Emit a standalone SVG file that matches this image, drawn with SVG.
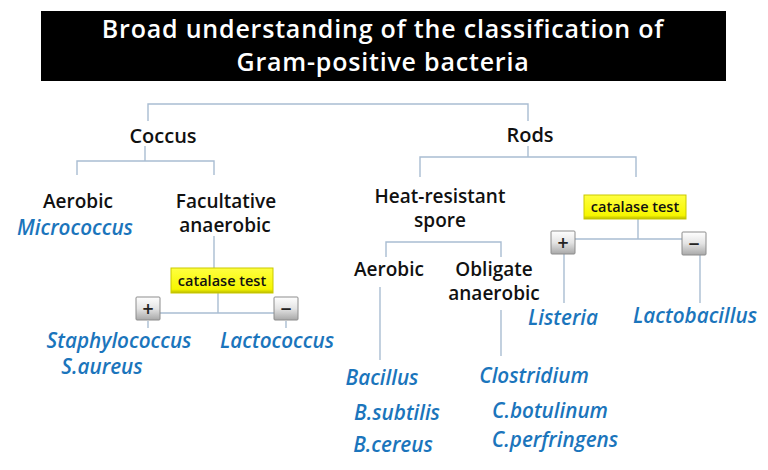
<svg xmlns="http://www.w3.org/2000/svg" width="768" height="470" viewBox="0 0 768 470">
<defs>
<linearGradient id="btn" x1="0" y1="0" x2="0" y2="1">
<stop offset="0" stop-color="#ffffff"/>
<stop offset="0.5" stop-color="#e4e4e4"/>
<stop offset="1" stop-color="#a8a8a8"/>
</linearGradient>
<linearGradient id="yel" x1="0" y1="0" x2="0" y2="1">
<stop offset="0" stop-color="#ffff40"/>
<stop offset="0.85" stop-color="#f6f600"/>
<stop offset="1" stop-color="#b8b800"/>
</linearGradient>
<style>
.ln{fill:none;stroke:#a9bdd2;stroke-width:1.4}
.lb{font-family:"Open Sans","Noto Sans",sans-serif;font-size:19px;font-weight:600;fill:#111;text-anchor:middle}
.sp{font-family:"Open Sans","Noto Sans",sans-serif;font-size:20.7px;font-style:italic;font-weight:600;fill:#1b75bc;text-anchor:middle}
.ct{font-family:"Open Sans","Noto Sans",sans-serif;font-size:14.5px;font-weight:600;fill:#111;text-anchor:middle}
.bx{fill:url(#yel);stroke:#c9c900;stroke-width:1}
.bt{fill:url(#btn);stroke:#8c8c8c;stroke-width:1}
.bs{font-family:"DejaVu Sans",sans-serif;font-size:15px;font-weight:bold;fill:#222;text-anchor:middle}
.tt{font-family:"Open Sans","Noto Sans",sans-serif;font-size:25px;font-weight:600;letter-spacing:0.8px;fill:#fff;text-anchor:middle}
</style>
</defs>
<rect x="0" y="0" width="768" height="470" fill="#fff"/>
<g id="title">
<rect x="41" y="11" width="685" height="70" fill="#000"/>
<text class="tt" x="383" y="38">Broad understanding of the classification of</text>
<text class="tt" x="383" y="71">Gram-positive bacteria</text>
</g>
<g id="connectors">
<polyline class="ln" points="148,121 148,104 528,104 528,121"/>
<polyline class="ln" points="77,175 77,161 214,161 214,175"/>
<line class="ln" x1="145" y1="146" x2="145" y2="161"/>
<line class="ln" x1="214" y1="236" x2="214" y2="268"/>
<line class="ln" x1="218" y1="293" x2="218" y2="313"/>
<line class="ln" x1="160" y1="313" x2="274" y2="313"/>
<line class="ln" x1="148" y1="321" x2="148" y2="328"/>
<line class="ln" x1="286" y1="321" x2="286" y2="328"/>
<line class="ln" x1="528" y1="146" x2="528" y2="157"/>
<polyline class="ln" points="420,177 420,157 636,157 636,177"/>
<polyline class="ln" points="386,257 386,242 501,242 501,257"/>
<line class="ln" x1="638" y1="219" x2="638" y2="239"/>
<line class="ln" x1="575" y1="239" x2="682" y2="239"/>
<line class="ln" x1="564" y1="254" x2="564" y2="303"/>
<line class="ln" x1="700" y1="254" x2="700" y2="303"/>
<line class="ln" x1="380" y1="287" x2="380" y2="360"/>
<line class="ln" x1="501" y1="310" x2="501" y2="356"/>
</g>
<g id="coccus"><text class="lb" x="163" y="143" style="font-size:20px">Coccus</text></g>
<g id="rods"><text class="lb" x="530" y="142" style="font-size:20px">Rods</text></g>
<g id="aerobic-coccus">
<text class="lb" x="78" y="208">Aerobic</text>
<text class="sp" x="75" y="235">Micrococcus</text>
</g>
<g id="facultative">
<text class="lb" x="226" y="208">Facultative</text>
<text class="lb" x="225" y="232">anaerobic</text>
</g>
<g id="catalase-1">
<rect class="bx" x="171" y="268" width="102" height="25"/>
<text class="ct" x="222" y="286">catalase test</text>
</g>
<g id="plus-1">
<rect class="bt" x="136" y="297" width="24" height="23" rx="1"/>
<text class="bs" x="148" y="314">+</text>
</g>
<g id="minus-1">
<rect class="bt" x="274" y="297" width="24" height="23" rx="1"/>
<text class="bs" x="286" y="314">−</text>
</g>
<g id="staphylococcus">
<text class="sp" x="119" y="348">Staphylococcus</text>
<text class="sp" x="102" y="374">S.aureus</text>
</g>
<g id="lactococcus"><text class="sp" x="277" y="348">Lactococcus</text></g>
<g id="heat-resistant">
<text class="lb" x="440" y="203">Heat-resistant</text>
<text class="lb" x="440" y="227">spore</text>
</g>
<g id="aerobic-rods"><text class="lb" x="389" y="276">Aerobic</text></g>
<g id="obligate">
<text class="lb" x="494" y="276">Obligate</text>
<text class="lb" x="494" y="300">anaerobic</text>
</g>
<g id="catalase-2">
<rect class="bx" x="584" y="195" width="102" height="24"/>
<text class="ct" x="635" y="212">catalase test</text>
</g>
<g id="plus-2">
<rect class="bt" x="551" y="231" width="24" height="23" rx="1"/>
<text class="bs" x="563" y="248">+</text>
</g>
<g id="minus-2">
<rect class="bt" x="682" y="232" width="24" height="23" rx="1"/>
<text class="bs" x="694" y="249">−</text>
</g>
<g id="listeria"><text class="sp" x="563" y="325">Listeria</text></g>
<g id="lactobacillus"><text class="sp" x="695" y="323">Lactobacillus</text></g>
<g id="bacillus">
<text class="sp" x="382" y="385">Bacillus</text>
<text class="sp" x="397" y="420">B.subtilis</text>
<text class="sp" x="393" y="452">B.cereus</text>
</g>
<g id="clostridium">
<text class="sp" x="534" y="383">Clostridium</text>
<text class="sp" x="550" y="418">C.botulinum</text>
<text class="sp" x="555" y="447">C.perfringens</text>
</g>
</svg>
